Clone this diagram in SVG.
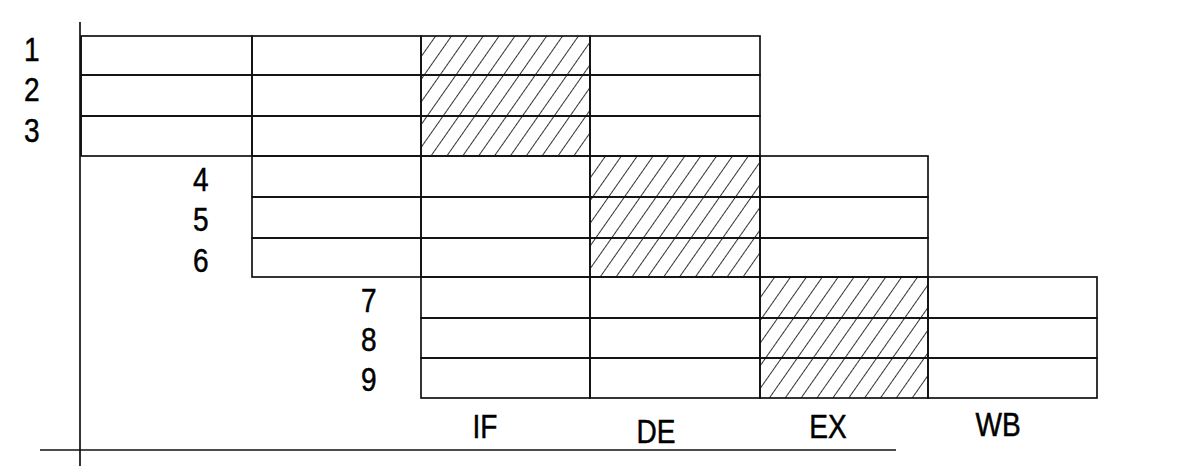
<svg xmlns="http://www.w3.org/2000/svg" width="1192" height="466" viewBox="0 0 1192 466">
  <style>
    .cell { fill: none; stroke: #111; stroke-width: 1.7; }
    .hatch { fill: url(#hatch); stroke: #111; stroke-width: 1.7; }
    .axis { stroke: #111; stroke-width: 1.7; fill: none; }
    .num { font-family: "Liberation Sans", Arial, sans-serif; font-size: 33px; fill: #000; stroke: #000; stroke-width: 0.5; }
    .lbl { font-family: "Liberation Sans", Arial, sans-serif; font-size: 33px; fill: #000; stroke: #000; stroke-width: 0.5; text-anchor: middle; }
  </style>
  <defs>
    <pattern id="hatch" patternUnits="userSpaceOnUse" width="13" height="10" patternTransform="rotate(35)">
      <line x1="0" y1="0" x2="0" y2="10" stroke="#000" stroke-width="1.6"/>
    </pattern>
  </defs>
  <rect width="1192" height="466" fill="#fff"/>

  <g id="connectors">
    <line class="axis" x1="80" y1="22" x2="80" y2="466"/>
    <line class="axis" x1="40" y1="450" x2="896" y2="450"/>
  </g>

  <g id="instr-1-3">
    <rect class="cell" x="81" y="36" width="171" height="39"/>
    <rect class="cell" x="81" y="75" width="171" height="41"/>
    <rect class="cell" x="81" y="116" width="171" height="40"/>
    <rect class="cell" x="252" y="36" width="169" height="39"/>
    <rect class="cell" x="252" y="75" width="169" height="41"/>
    <rect class="cell" x="252" y="116" width="169" height="40"/>
    <rect class="hatch" x="421" y="36" width="169" height="39"/>
    <rect class="hatch" x="421" y="75" width="169" height="41"/>
    <rect class="hatch" x="421" y="116" width="169" height="40"/>
    <rect class="cell" x="590" y="36" width="170" height="39"/>
    <rect class="cell" x="590" y="75" width="170" height="41"/>
    <rect class="cell" x="590" y="116" width="170" height="40"/>
    <line class="axis" x1="81" y1="36" x2="81" y2="156" stroke-width="3"/>
    <text class="num" transform="translate(24,61) scale(0.85,1)">1</text>
    <text class="num" transform="translate(24,101) scale(0.85,1)">2</text>
    <text class="num" transform="translate(24,142) scale(0.85,1)">3</text>
  </g>

  <g id="instr-4-6">
    <rect class="cell" x="252" y="156" width="169" height="41"/>
    <rect class="cell" x="252" y="197" width="169" height="41"/>
    <rect class="cell" x="252" y="238" width="169" height="39"/>
    <rect class="cell" x="421" y="156" width="169" height="41"/>
    <rect class="cell" x="421" y="197" width="169" height="41"/>
    <rect class="cell" x="421" y="238" width="169" height="39"/>
    <rect class="hatch" x="590" y="156" width="170" height="41"/>
    <rect class="hatch" x="590" y="197" width="170" height="41"/>
    <rect class="hatch" x="590" y="238" width="170" height="39"/>
    <rect class="cell" x="760" y="156" width="168" height="41"/>
    <rect class="cell" x="760" y="197" width="168" height="41"/>
    <rect class="cell" x="760" y="238" width="168" height="39"/>
    <text class="num" transform="translate(193,191) scale(0.85,1)">4</text>
    <text class="num" transform="translate(193,231) scale(0.85,1)">5</text>
    <text class="num" transform="translate(193,272) scale(0.85,1)">6</text>
  </g>

  <g id="instr-7-9">
    <rect class="cell" x="421" y="277" width="169" height="41"/>
    <rect class="cell" x="421" y="318" width="169" height="40"/>
    <rect class="cell" x="421" y="358" width="169" height="40"/>
    <rect class="cell" x="590" y="277" width="170" height="41"/>
    <rect class="cell" x="590" y="318" width="170" height="40"/>
    <rect class="cell" x="590" y="358" width="170" height="40"/>
    <rect class="hatch" x="760" y="277" width="168" height="41"/>
    <rect class="hatch" x="760" y="318" width="168" height="40"/>
    <rect class="hatch" x="760" y="358" width="168" height="40"/>
    <rect class="cell" x="928" y="277" width="169" height="41"/>
    <rect class="cell" x="928" y="318" width="169" height="40"/>
    <rect class="cell" x="928" y="358" width="169" height="40"/>
    <text class="num" transform="translate(361,312) scale(0.85,1)">7</text>
    <text class="num" transform="translate(361,351) scale(0.85,1)">8</text>
    <text class="num" transform="translate(361,391) scale(0.85,1)">9</text>
  </g>

  <g id="stage-labels">
    <text class="lbl" transform="translate(485,438) scale(0.85,1)">IF</text>
    <text class="lbl" transform="translate(656,443) scale(0.85,1)">DE</text>
    <text class="lbl" transform="translate(828,438) scale(0.85,1)">EX</text>
    <text class="lbl" transform="translate(998,436) scale(0.85,1)">WB</text>
  </g>
</svg>
